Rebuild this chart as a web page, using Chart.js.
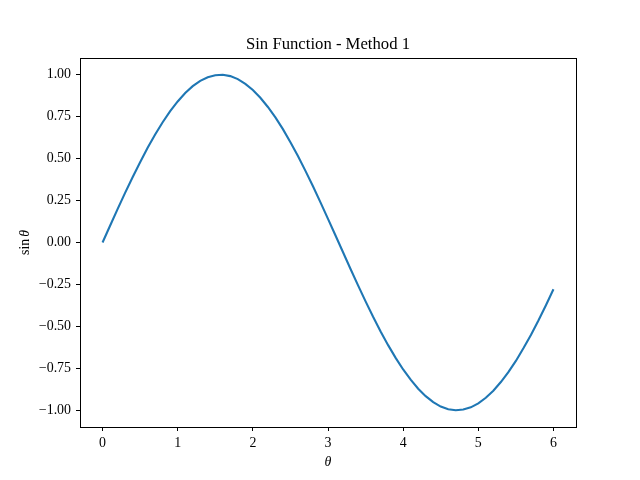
<!DOCTYPE html>
<html>
<head>
<meta charset="utf-8">
<script src="https://cdn.jsdelivr.net/npm/chart.js@4.4.0/dist/chart.umd.min.js"></script>
<style>
  body { margin: 0; background: #fff; }
  canvas { display: block; }
</style>
</head>
<body>
<canvas id="graph" width="640" height="480"></canvas>
<script>
const thetaValues = [
  0.0, 0.1, 0.2, 0.3, 0.4, 0.5, 0.6, 0.7, 0.8, 0.9,
  1.0, 1.1, 1.2, 1.3, 1.4, 1.5, 1.6, 1.7, 1.8, 1.9,
  2.0, 2.1, 2.2, 2.3, 2.4, 2.5, 2.6, 2.7, 2.8, 2.9,
  3.0, 3.1, 3.2, 3.3, 3.4, 3.5, 3.6, 3.7, 3.8, 3.9,
  4.0, 4.1, 4.2, 4.3, 4.4, 4.5, 4.6, 4.7, 4.8, 4.9,
  5.0, 5.1, 5.2, 5.3, 5.4, 5.5, 5.6, 5.7, 5.8, 5.9,
  6.0
];
const sinValues = [
  0.000, 0.100, 0.199, 0.296, 0.389, 0.479, 0.565, 0.644, 0.717, 0.783,
  0.841, 0.891, 0.932, 0.964, 0.985, 0.997, 1.000, 0.992, 0.974, 0.946,
  0.909, 0.863, 0.808, 0.746, 0.676, 0.598, 0.516, 0.427, 0.335, 0.239,
  0.141, 0.042, -0.058, -0.158, -0.256, -0.351, -0.443, -0.530, -0.612, -0.688,
  -0.757, -0.818, -0.872, -0.916, -0.952, -0.978, -0.994, -1.000, -0.996, -0.983,
  -0.959, -0.926, -0.884, -0.832, -0.773, -0.706, -0.631, -0.551, -0.465, -0.374,
  -0.279
];
const xTicks = [0, 1, 2, 3, 4, 5, 6];
const yTicks = [-1.0, -0.75, -0.5, -0.25, 0.0, 0.25, 0.5, 0.75, 1.0];

const serif = '"Liberation Serif", "Times New Roman", serif';
const points = thetaValues.map((t, i) => ({ x: t, y: sinValues[i] }));

// frame on all four sides plus title and axis labels
const decorations = {
  id: 'decorations',
  afterDraw(chart) {
    const c = chart.ctx;
    const a = chart.chartArea;
    c.save();
    c.strokeStyle = '#000';
    c.lineWidth = 1;
    c.strokeRect(Math.round(a.left) + 0.5, Math.round(a.top) + 0.5,
      Math.round(a.right - a.left), Math.round(a.bottom - a.top));

    c.fillStyle = '#000';
    c.textAlign = 'center';
    c.textBaseline = 'alphabetic';
    c.font = '16.7px ' + serif;
    c.fillText('Sin Function - Method 1', (a.left + a.right) / 2, 49);

    c.font = 'italic 13.9px ' + serif;
    c.textBaseline = 'middle';
    c.fillText('\u03b8', (a.left + a.right) / 2, 462);

    // y label: upright "sin" + italic theta, rotated
    c.translate(25, (a.top + a.bottom) / 2);
    c.rotate(-Math.PI / 2);
    c.font = '13.9px ' + serif;
    const w1 = c.measureText('sin').width + 2;
    c.font = 'italic 13.9px ' + serif;
    const w2 = c.measureText('\u03b8').width;
    const start = -(w1 + w2) / 2;
    c.textAlign = 'left';
    c.font = '13.9px ' + serif;
    c.fillText('sin', start, 0);
    c.font = 'italic 13.9px ' + serif;
    c.fillText('\u03b8', start + w1, 0);
    c.restore();
  }
};

const ctx = document.getElementById('graph').getContext('2d');
const chart = new Chart(ctx, {
  type: 'line',
  data: {
    datasets: [{
      data: points,
      borderColor: '#1f77b4',
      borderWidth: 2.1,
      pointRadius: 0,
      tension: 0,
      fill: false
    }]
  },
  options: {
    responsive: false,
    animation: false,
    layout: { padding: { left: 0, top: 58, right: 64, bottom: 0 } },
    plugins: {
      legend: { display: false },
      title: { display: false },
      tooltip: { enabled: false }
    },
    scales: {
      x: {
        type: 'linear',
        min: -0.3,
        max: 6.3,
        afterBuildTicks: (s) => { s.ticks = xTicks.map(v => ({ value: v })); },
        afterFit: (s) => { s.height = 53; },
        border: { display: false },
        grid: {
          drawOnChartArea: false,
          drawTicks: true,
          tickLength: 4,
          tickWidth: 1,
          tickColor: '#000'
        },
        ticks: {
          color: '#000',
          font: { family: serif, size: 13.9 },
          padding: 4,
          maxRotation: 0,
          callback: (v) => String(v)
        }
      },
      y: {
        min: -1.1,
        max: 1.1,
        afterBuildTicks: (s) => { s.ticks = yTicks.map(v => ({ value: v })); },
        afterFit: (s) => { s.width = 80; },
        border: { display: false },
        grid: {
          drawOnChartArea: false,
          drawTicks: true,
          tickLength: 4,
          tickWidth: 1,
          tickColor: '#000'
        },
        ticks: {
          color: '#000',
          font: { family: serif, size: 13.9 },
          padding: 5,
          // matplotlib prints a real minus sign
          callback: (v) => v.toFixed(2).replace('-', '\u2212')
        }
      }
    }
  },
  plugins: [decorations]
});
</script>
</body>
</html>
